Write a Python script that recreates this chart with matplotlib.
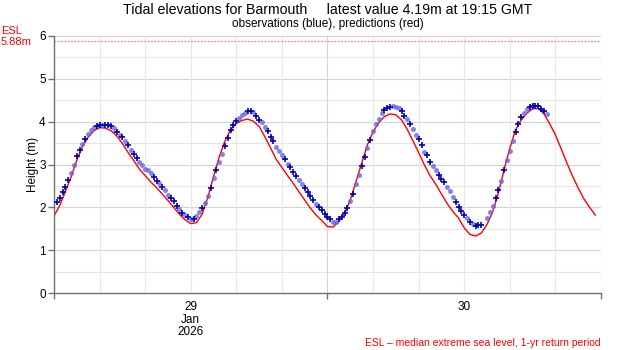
import matplotlib
matplotlib.use('Agg')
import matplotlib.pyplot as plt
import numpy as np

plt.rcParams['font.family'] = ['Liberation Sans', 'DejaVu Sans']

# hours since 29 Jan 2026 00:00 GMT
esl = 5.88

# predictions every 30 min (0.0 .. 47.5 h)
pred = [1.80, 2.04, 2.37, 2.71, 3.10, 3.42, 3.64, 3.79, 3.86, 3.85, 3.79, 3.67,
        3.49, 3.28, 3.09, 2.89, 2.74, 2.59, 2.46, 2.31, 2.16, 2.00, 1.84, 1.71,
        1.62, 1.64, 1.84, 2.23, 2.72, 3.18, 3.55, 3.81, 3.96, 4.03, 4.06, 4.01,
        3.89, 3.65, 3.39, 3.12, 2.93, 2.74, 2.56, 2.36, 2.17, 1.98, 1.82, 1.69,
        1.55, 1.54, 1.67, 1.86, 2.17, 2.60, 3.03, 3.46, 3.76, 3.98, 4.12, 4.18,
        4.16, 4.04, 3.82, 3.55, 3.28, 2.99, 2.74, 2.54, 2.31, 2.09, 1.90, 1.75,
        1.52, 1.37, 1.33, 1.40, 1.60, 1.90, 2.34, 2.88, 3.38, 3.81, 4.04, 4.20,
        4.30, 4.31, 4.18, 3.95, 3.69, 3.37, 3.04, 2.73, 2.45, 2.20, 2.00, 1.82]
pred_t = np.arange(len(pred)) * 0.5

# observations every 15 min from 00:15 to 19:15 on 30 Jan
obs = [2.12, 2.22, 2.35, 2.48, 2.64, 2.81, 2.98, 3.20, 3.35, 3.49, 3.60, 3.71,
       3.81, 3.88, 3.91, 3.93, 3.93, 3.93, 3.93, 3.91, 3.85, 3.77, 3.70, 3.64,
       3.54, 3.45, 3.34, 3.25, 3.16, 3.07, 2.99, 2.90, 2.86, 2.79, 2.70, 2.61,
       2.56, 2.47, 2.40, 2.29, 2.21, 2.14, 2.03, 1.95, 1.86, 1.81, 1.77, 1.73,
       1.73, 1.80, 1.88, 1.98, 2.10, 2.26, 2.44, 2.69, 2.88, 3.06, 3.25, 3.44,
       3.62, 3.80, 3.92, 4.02, 4.09, 4.16, 4.21, 4.25, 4.26, 4.22, 4.14, 4.05,
       3.99, 3.88, 3.78, 3.64, 3.55, 3.42, 3.32, 3.22, 3.14, 3.01, 2.93, 2.83,
       2.73, 2.63, 2.54, 2.44, 2.35, 2.26, 2.17, 2.08, 2.01, 1.93, 1.85, 1.78,
       1.72, 1.66, 1.66, 1.72, 1.78, 1.86, 1.98, 2.15, 2.32, 2.54, 2.76, 2.97,
       3.18, 3.39, 3.58, 3.78, 3.94, 4.07, 4.20, 4.27, 4.33, 4.35, 4.37, 4.35,
       4.31, 4.24, 4.14, 4.06, 3.95, 3.84, 3.70, 3.59, 3.46, 3.30, 3.22, 3.05,
       2.96, 2.86, 2.76, 2.67, 2.58, 2.48, 2.37, 2.25, 2.12, 2.00, 1.92, 1.82,
       1.74, 1.66, 1.60, 1.57, 1.58, 1.59, np.nan, 1.76, 1.88, 2.02, 2.21, 2.40,
       2.62, 2.86, 3.10, 3.32, 3.56, 3.76, 3.95, 4.10, 4.21, 4.29, 4.35, 4.37,
       4.37, 4.37, 4.30, 4.25, 4.19]
# '+' and 'o' markers as drawn in the reference
obs_kind = ("+++++oo++o+o" "oo++o+++o+o+" "o+o++ooooo++" "o+oo+++o+o+o"
            "+oo+oo+o+oo+" "++++ooo++o++" "oo+++ooo+o++" "+oo++++o++++"
            "+oo++++o+oo+" "+o+oooo+++oo" "o++o+oo++o++" "oo+++ooo++++"
            "o+o+++oooo++" "o+ooo+++oo++" "++++o")
obs_t = 0.25 + np.arange(len(obs)) * 0.25

day_labels = ['29\nJan\n2026', '30']

obs = np.array(obs)
kind = np.array(list(obs_kind))

fig = plt.figure(figsize=(6.2, 3.5), dpi=100)
ax = fig.add_axes([54/620, 1-293/350, (601-54)/620, (293-36)/350])

# grid
for y in np.arange(0.5, 6.01, 0.5):
    ax.axhline(y, color='#d4d4d4' if y % 1 == 0 else '#e6e6e6', lw=0.8, zorder=0)
for x in range(4, 49, 4):
    ax.axvline(x, color='#d4d4d4' if x % 24 == 0 else '#e8e8e8', lw=0.8, zorder=0)

ax.axhline(esl, color='#ff6a6a', lw=0.8, ls=(0, (1.5, 1.5)), zorder=1)

ax.plot(pred_t, pred, color='#ff0000', lw=1.0, zorder=2)
m = kind == 'o'
ax.plot(obs_t[m], obs[m], 'o', ms=3.6, color='#6464e6', alpha=0.8, mec='none', zorder=3)
ax.plot(obs_t[~m], obs[~m], '+', ms=4.5, mew=1.2, color='#0000b4', zorder=4)

ax.set_xlim(0, 48)
ax.set_ylim(0, 6)
for s in ['top', 'right']:
    ax.spines[s].set_visible(False)
for s in ['left', 'bottom']:
    ax.spines[s].set_color('#707070')
    ax.spines[s].set_linewidth(1.0)

ax.set_yticks(range(0, 7))
ax.tick_params(axis='y', length=4, width=1, color='#707070', labelsize=8.5, pad=2)
ax.set_xticks([0, 24, 48])
ax.set_xticklabels([])
ax.set_xticks([12, 36], minor=True)
ax.set_xticklabels(day_labels, minor=True, linespacing=1.05)
ax.tick_params(axis='x', which='major', length=4, width=1, color='#707070')
ax.tick_params(axis='x', which='minor', length=0, labelsize=8.5, pad=6)

fig.text(33/620, 1-164/350, 'Height (m)', rotation=90, ha='center', va='center', fontsize=8.5)
fig.text(0.528, 1-10/350, 'Tidal elevations for Barmouth     latest value 4.19m at 19:15 GMT',
         ha='center', va='center', fontsize=10.2)
fig.text(328/620, 1-24/350, 'observations (blue), predictions (red)',
         ha='center', va='center', fontsize=8.5)
fig.text(1/620, 1-31/350, 'ESL', color='red', fontsize=8, ha='left', va='center')
fig.text(1/620, 1-42/350, '5.88m', color='red', fontsize=8, ha='left', va='center')
fig.text(601/620, 1-343/350, 'ESL \u2013 median extreme sea level, 1-yr return period',
         color='red', fontsize=7.5, ha='right', va='center')

fig.savefig('out.png', dpi=100)
